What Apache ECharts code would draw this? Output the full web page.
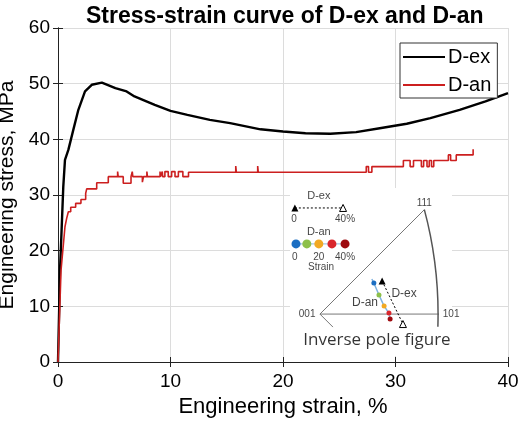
<!DOCTYPE html>
<html>
<head>
<meta charset="utf-8">
<script src="https://cdn.jsdelivr.net/npm/echarts@6/dist/echarts.min.js"></script>
<style>
html,body{margin:0;padding:0;background:#fff}
#chart{width:520px;height:426px}
</style>
</head>
<body>
<div id="chart"></div>
<script>
// stress-strain data: [strain %, stress MPa]
var dex = [[0,0],[0.18,16.5],[0.47,31.5],[0.62,36.3],[0.92,38.1],[1.36,41.7],[1.81,45.3],[2.4,48.6],[3.0,49.8],[3.9,50.2],
    [5.1,49.2],[6.1,48.6],[6.8,47.7],[8.6,46.2],[10.0,45.1],[11.5,44.4],[13.5,43.5],[15.3,42.9],[18.0,41.8],[20,41.4],
    [22,41.1],[24.2,41.0],[26.5,41.3],[28.6,42.0],[31,42.8],[33.1,43.8],[35.7,45.3],[38,46.8],[40,48.3]];

var dan = [[0,0],[0.27,16.5],[0.62,24.3],[0.77,25.8],[0.92,27.0],[1.13,27.0],[1.13,27.8],[1.57,27.8],[1.57,28.5],
    [2.04,28.5],[2.04,29.2],[2.46,29.2],[2.46,30.3],[2.55,30.3],[2.55,31.1],[3.44,31.1],[3.44,32.2],[4.47,32.2],
    [4.47,33.3],[5.3,33.3],[5.3,34.2],[5.35,34.2],[5.35,33.3],[5.8,33.3],[5.8,32.1],[6.49,32.1],[6.49,33.3],
    [6.6,33.3],[6.6,34.2],[6.65,34.2],[6.65,33.3],[7.5,33.3],[7.5,32.3],[7.6,32.3],[7.6,33.3],[7.9,33.3],[7.9,34.2],
    [7.95,34.2],[7.95,33.3],[9.07,33.3],[9.07,34.2],[9.1,34.2],[9.1,33.3],[9.27,33.3],[9.27,34.2],[9.3,34.2],
    [9.3,33.3],[9.5,33.3],[9.5,34.2],[9.8,34.2],[9.8,33.3],[10.1,33.3],[10.1,34.2],[10.4,34.2],[10.4,33.3],
    [10.7,33.3],[10.7,34.2],[11.1,34.2],[11.1,33.3],[11.6,33.3],[11.6,34.1],[15.8,34.1],[15.8,35.2],[15.85,35.2],
    [15.85,34.1],[17.75,34.1],[17.75,35.2],[17.8,35.2],[17.8,34.1],[27.4,34.1],[27.4,35.1],[27.6,35.1],[27.6,34.1],
    [27.9,34.1],[27.9,35.1],[30.7,35.1],[30.7,36.2],[31.3,36.2],[31.3,35.1],[31.6,35.1],[31.6,36.2],[32.3,36.2],
    [32.3,35.1],[32.5,35.1],[32.5,36.2],[32.8,36.2],[32.8,35.1],[33.0,35.1],[33.0,36.2],[33.2,36.2],[33.2,35.1],
    [33.4,35.1],[33.4,36.2],[34.7,36.2],[34.7,37.2],[34.9,37.2],[34.9,36.2],[35.4,36.2],[35.4,37.2],[36.9,37.2],[36.9,38.2]];

var xTicks = [0,10,20,30,40];
var yTicks = [0,10,20,30,40,50,60];

// inset: inverse pole figure in stereographic coordinates
var ipfEdge = [[0.0456,-0.0456],[0,0],[0.366,0.366]];
var ipfBase = [[0,0],[0.4175,0]];
var ipfArc = [[0.366,0.366],[0.3871,0.2759],[0.4021,0.1846],[0.4112,0.0925],[0.4142,0],[0.4135,-0.0444]];
var danPath = [[0.182,0.123],[0.189,0.109],[0.207,0.067],[0.225,0.028],[0.242,0.0035],[0.246,-0.0175]];
var danColors = ['#1b6ec2','#1b6ec2','#8dc04a','#f2a922','#d9262c','#9e0b0f'];
var dexPath = [[0.218,0.116],[0.291,-0.035]];
var keyTri = [[-0.088,0.372],[0.081,0.372]];
var keyDots = [[-0.084,0.246],[-0.046,0.246],[-0.004,0.246],[0.042,0.246],[0.088,0.246]];
var keyColors = ['#1b6ec2','#8dc04a','#f2a922','#d9262c','#9e0b0f'];
var insetText = [
    {value:[-0.004,0.414], name:'D-ex', size:11},
    {value:[-0.091,0.333], name:'0', size:10},
    {value:[0.088,0.333], name:'40%', size:10},
    {value:[-0.004,0.288], name:'D-an', size:11},
    {value:[-0.088,0.200], name:'0', size:10},
    {value:[-0.004,0.200], name:'20', size:10},
    {value:[0.088,0.200], name:'40%', size:10},
    {value:[0.004,0.165], name:'Strain', size:10},
    {value:[0.366,0.390], name:'111', size:10},
    {value:[-0.045,0.0], name:'001', size:10},
    {value:[0.460,0.0], name:'101', size:10},
    {value:[0.295,0.070], name:'D-ex', size:12},
    {value:[0.158,0.039], name:'D-an', size:12},
    {value:[0.200,-0.091], name:'Inverse pole figure', size:17}
];

var myChart = echarts.init(document.getElementById('chart'));
var frame = {show:true, lineStyle:{color:'#222', width:1}};
var ticks = {show:true, inside:true, length:5, lineStyle:{color:'#222'}};
var grid0 = {show:true, lineStyle:{color:'#dcdcdc', width:1}};

var option = {
    animation: false,
    title: {
        text: 'Stress-strain curve of D-ex and D-an',
        left: 81,
        top: 0,
        textStyle: {fontSize:23, fontWeight:'bold', color:'#000', fontFamily:'Liberation Sans'}
    },
    legend: {
        data: ['D-ex','D-an'],
        orient: 'vertical',
        left: 400,
        top: 43,
        padding: [4,6,3,3],
        icon: 'rect',
        itemWidth: 42,
        itemHeight: 2,
        itemGap: 8,
        borderColor: '#333',
        borderWidth: 1,
        borderRadius: 0,
        backgroundColor: '#fff',
        textStyle: {fontSize:20, color:'#000', fontFamily:'Liberation Sans', padding:[0,0,0,-2]}
    },
    graphic: [{
        type: 'rect', left: 290, top: 188, z: 5,
        shape: {width:162, height:168},
        style: {fill:'#fff'}
    }],
    grid: [
        {left:58, right:12, top:28, bottom:64, outerBoundsMode:'none', containLabel:false},
        {left:290, top:188, width:162, height:168, outerBoundsMode:'none', containLabel:false}
    ],
    xAxis: [
        {type:'value', gridIndex:0, min:0, max:40, interval:10, position:'bottom',
         name:'Engineering strain, %', nameLocation:'middle', nameGap:34,
         nameTextStyle:{fontSize:22, color:'#000', fontFamily:'Liberation Sans'},
         axisLine:frame, axisTick:ticks, splitLine:grid0,
         axisLabel:{color:'#000', fontSize:19, fontFamily:'Liberation Sans', margin:10}},
        {type:'value', gridIndex:0, min:0, max:40, interval:10, position:'top',
         axisLine:frame, axisTick:ticks, axisLabel:{show:false}, splitLine:{show:false}},
        {type:'value', gridIndex:1, min:-0.105, max:0.463, show:false}
    ],
    yAxis: [
        {type:'value', gridIndex:0, min:0, max:60, interval:10, position:'left',
         name:'Engineering stress, MPa', nameLocation:'middle', nameGap:30,
         nameTextStyle:{fontSize:21, color:'#000', fontFamily:'Liberation Sans'},
         axisLine:frame, axisTick:ticks, splitLine:grid0,
         axisLabel:{color:'#000', fontSize:19, fontFamily:'Liberation Sans', margin:8}},
        {type:'value', gridIndex:0, min:0, max:60, interval:10, position:'right',
         axisLine:frame, axisTick:ticks, axisLabel:{show:false}, splitLine:{show:false}},
        {type:'value', gridIndex:1, min:-0.147, max:0.442, show:false}
    ],
    series: [
        {name:'D-ex', type:'line', data:dex, symbol:'none', showSymbol:false, z:3,
         lineStyle:{color:'#000', width:2.4}, itemStyle:{color:'#000'}},
        {name:'D-an', type:'line', data:dan, symbol:'none', showSymbol:false, z:3,
         lineStyle:{color:'#cc1f1f', width:1.6}, itemStyle:{color:'#cc1f1f'}},

        // inset
        {type:'line', xAxisIndex:2, yAxisIndex:2, data:ipfEdge, symbol:'none', z:10,
         lineStyle:{color:'#777', width:1}},
        {type:'line', xAxisIndex:2, yAxisIndex:2, data:ipfBase, symbol:'none', z:10,
         lineStyle:{color:'#777', width:1}},
        {type:'line', xAxisIndex:2, yAxisIndex:2, data:ipfArc, symbol:'none', smooth:true, z:10,
         lineStyle:{color:'#555', width:1.5}},
        {type:'line', xAxisIndex:2, yAxisIndex:2, data:danPath.map(function(p,i){
            return {value:p, symbolSize: i === 0 ? 0 : 5, itemStyle:{color:danColors[i]}};
         }), symbol:'circle', z:11, lineStyle:{color:'#7fb2e0', width:1.5}},
        {type:'line', xAxisIndex:2, yAxisIndex:2, data:[
            {value:dexPath[0], symbol:'triangle', itemStyle:{color:'#000'}},
            {value:dexPath[1], symbol:'triangle', itemStyle:{color:'#fff', borderColor:'#000', borderWidth:1}}
         ], symbolSize:7, z:11, lineStyle:{color:'#000', width:1, type:[2,2]}},
        {type:'line', xAxisIndex:2, yAxisIndex:2, data:[
            {value:keyTri[0], symbol:'triangle', itemStyle:{color:'#000'}},
            {value:keyTri[1], symbol:'triangle', itemStyle:{color:'#fff', borderColor:'#000', borderWidth:1}}
         ], symbolSize:7, z:11, lineStyle:{color:'#000', width:1, type:[2,2]}},
        {type:'line', xAxisIndex:2, yAxisIndex:2, data:keyDots.map(function(p,i){
            return {value:p, itemStyle:{color:keyColors[i]}};
         }), symbol:'circle', symbolSize:9, z:11, lineStyle:{color:'#8fb8dc', width:1}},
        {type:'scatter', xAxisIndex:2, yAxisIndex:2, symbolSize:0, z:12,
         data: insetText.map(function(t){
            return {value:t.value, name:t.name,
                label:{fontSize:t.size, color: t.size > 15 ? '#000' : '#111',
                    fontFamily: t.size > 15 ? 'Open Sans' : 'Liberation Sans'}};
         }),
         label:{show:true, position:'inside', formatter:'{b}'}}
    ]
};
myChart.setOption(option);
</script>
</body>
</html>
